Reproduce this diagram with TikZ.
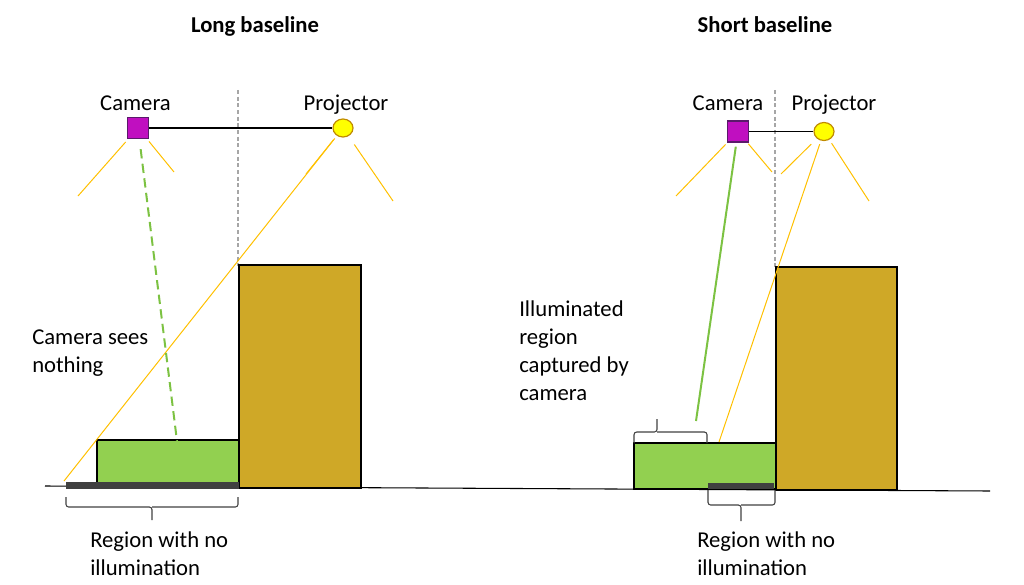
\documentclass[tikz,border=0pt]{standalone}
\usepackage{fontspec}
\setmainfont{Carlito}
\usetikzlibrary{shapes.geometric}
\definecolor{camfill}{HTML}{C00FC0}
\definecolor{camdraw}{HTML}{5A1A6A}
\definecolor{projfill}{HTML}{FFFF00}
\definecolor{projdraw}{HTML}{C08A00}
\definecolor{raycol}{HTML}{FFC000}
\definecolor{objfill}{HTML}{92D050}
\definecolor{wallfill}{HTML}{CFA827}
\definecolor{shadowcol}{HTML}{404040}
\definecolor{guidecol}{HTML}{A6A6A6}
\definecolor{sightcol}{HTML}{7CC242}
\tikzset{
  lbl/.style={font=\fontsize{17}{21}\selectfont, inner sep=0pt, anchor=base west},
  ttl/.style={font=\fontsize{17}{21}\selectfont\bfseries, inner sep=0pt, anchor=base},
  devlbl/.style={font=\fontsize{17}{21}\selectfont, inner sep=0pt, anchor=base},
  cam/.style={draw=camdraw, fill=camfill, line width=0.9pt, minimum size=15.75pt, inner sep=0pt},
  proj/.style={ellipse, draw=projdraw, fill=projfill, line width=0.9pt, minimum width=15pt, minimum height=13.5pt, inner sep=0pt},
  link/.style={line width=1.4pt, black},
  ray/.style={raycol, line width=0.75pt},
  sight/.style={sightcol, line width=1.5pt},
  guide/.style={guidecol, line width=0.9pt, dash pattern=on 3pt off 2pt},
  obj/.style={draw=black, fill=objfill, line width=1.4pt},
  wall/.style={draw=black, fill=wallfill, line width=1.4pt},
  shadowbar/.style={fill=shadowcol},
  ground/.style={black, line width=0.8pt},
  brk/.style={shadowcol, line width=0.8pt, rounded corners=2pt},
}
\begin{document}
\begin{tikzpicture}[x=0.75pt, y=-0.75pt]
\useasboundingbox (0,0) rectangle (1024,585);

% titles
\node[ttl] (t1) at (255,33) {Long baseline};
\node[ttl] (t2) at (765,33) {Short baseline};

% ground
\draw[ground] (45,486) -- (990,491);

% ---------------- left panel ----------------
\draw[guide] (238,90) -- (238,266);
\draw[wall] (239,265) rectangle (361,488);
\draw[obj] (97,440) rectangle (239,483);
\fill[shadowbar] (66,482) rectangle (239,489);

\node[devlbl] (lcamt) at (135.5,110) {Camera};
\node[devlbl] (lprojt) at (346,110) {Projector};
\node[cam] (lcam) at (138,128) {};
\node[proj] (lproj) at (343,128) {};
\draw[link] (lcam) -- (lproj);

\coordinate (lcr1) at (78,196);
\coordinate (lcr2) at (174,172);
\coordinate (lpr1) at (306,174);
\coordinate (lpr2) at (393,201);
\coordinate (lpr3) at (64,481);
\coordinate (lsee) at (177,441);
\draw[ray, shorten <=14pt] (lcam.center) -- (lcr1);
\draw[ray, shorten <=13pt] (lcam.center) -- (lcr2);
\draw[ray, shorten <=11.5pt] (lproj.center) -- (lpr1);
\draw[ray, shorten <=15pt] (lproj.center) -- (lpr2);
\draw[ray, shorten <=10pt] (lproj.center) -- (lpr3);
\draw[sight, dash pattern=on 7pt off 4pt, shorten <=16pt] (lcam.center) -- (lsee);

\draw[brk] (66,497) |- (152,507) -- (152,520) (152,507) -| (238,497);

\node[lbl] (l1) at (32,344) {Camera sees};
\node[lbl] (l2) at (32,372) {nothing};
\node[lbl] (l3) at (90,547) {Region with no};
\node[lbl] (l4) at (90,575) {illumination};

% ---------------- right panel ----------------
\draw[guide] (775,90) -- (775,268);
\draw[wall] (776,267) rectangle (897,490);
\draw[obj] (634,443) rectangle (776,489);
\fill[shadowbar] (708,483) rectangle (774,489);

\node[devlbl] (rcamt) at (728,110) {Camera};
\node[devlbl] (rprojt) at (834,110) {Projector};
\node[cam] (rcam) at (738,131.5) {};
\node[proj] (rproj) at (824,131.5) {};
\draw[link] (rcam) -- (rproj);

\coordinate (rcr1) at (676,196);
\coordinate (rcr2) at (772,172);
\coordinate (rpr1) at (781,174);
\coordinate (rpr2) at (869,201);
\coordinate (rpr3) at (719,442);
\coordinate (rsee) at (696,421);
\draw[ray, shorten <=13.5pt] (rcam.center) -- (rcr1);
\draw[ray, shorten <=12pt] (rcam.center) -- (rcr2);
\draw[ray, shorten <=13.5pt] (rproj.center) -- (rpr1);
\draw[ray, shorten <=10.5pt] (rproj.center) -- (rpr2);
\draw[ray, shorten <=10pt] (rproj.center) -- (rpr3);
\draw[sight, shorten <=11.5pt] (rcam.center) -- (rsee);

\draw[brk] (634,443) |- (657,432) -- (657,419) (657,432) -| (707,443);
\draw[brk] (708,490) |- (741,505) -- (741,521) (741,505) -| (775,490);

\node[lbl] (r1) at (519,316) {Illuminated};
\node[lbl] (r2) at (519,344) {region};
\node[lbl] (r3) at (519,372) {captured by};
\node[lbl] (r4) at (519,400) {camera};
\node[lbl] (r5) at (697,547) {Region with no};
\node[lbl] (r6) at (697,575) {illumination};
\end{tikzpicture}
\end{document}
